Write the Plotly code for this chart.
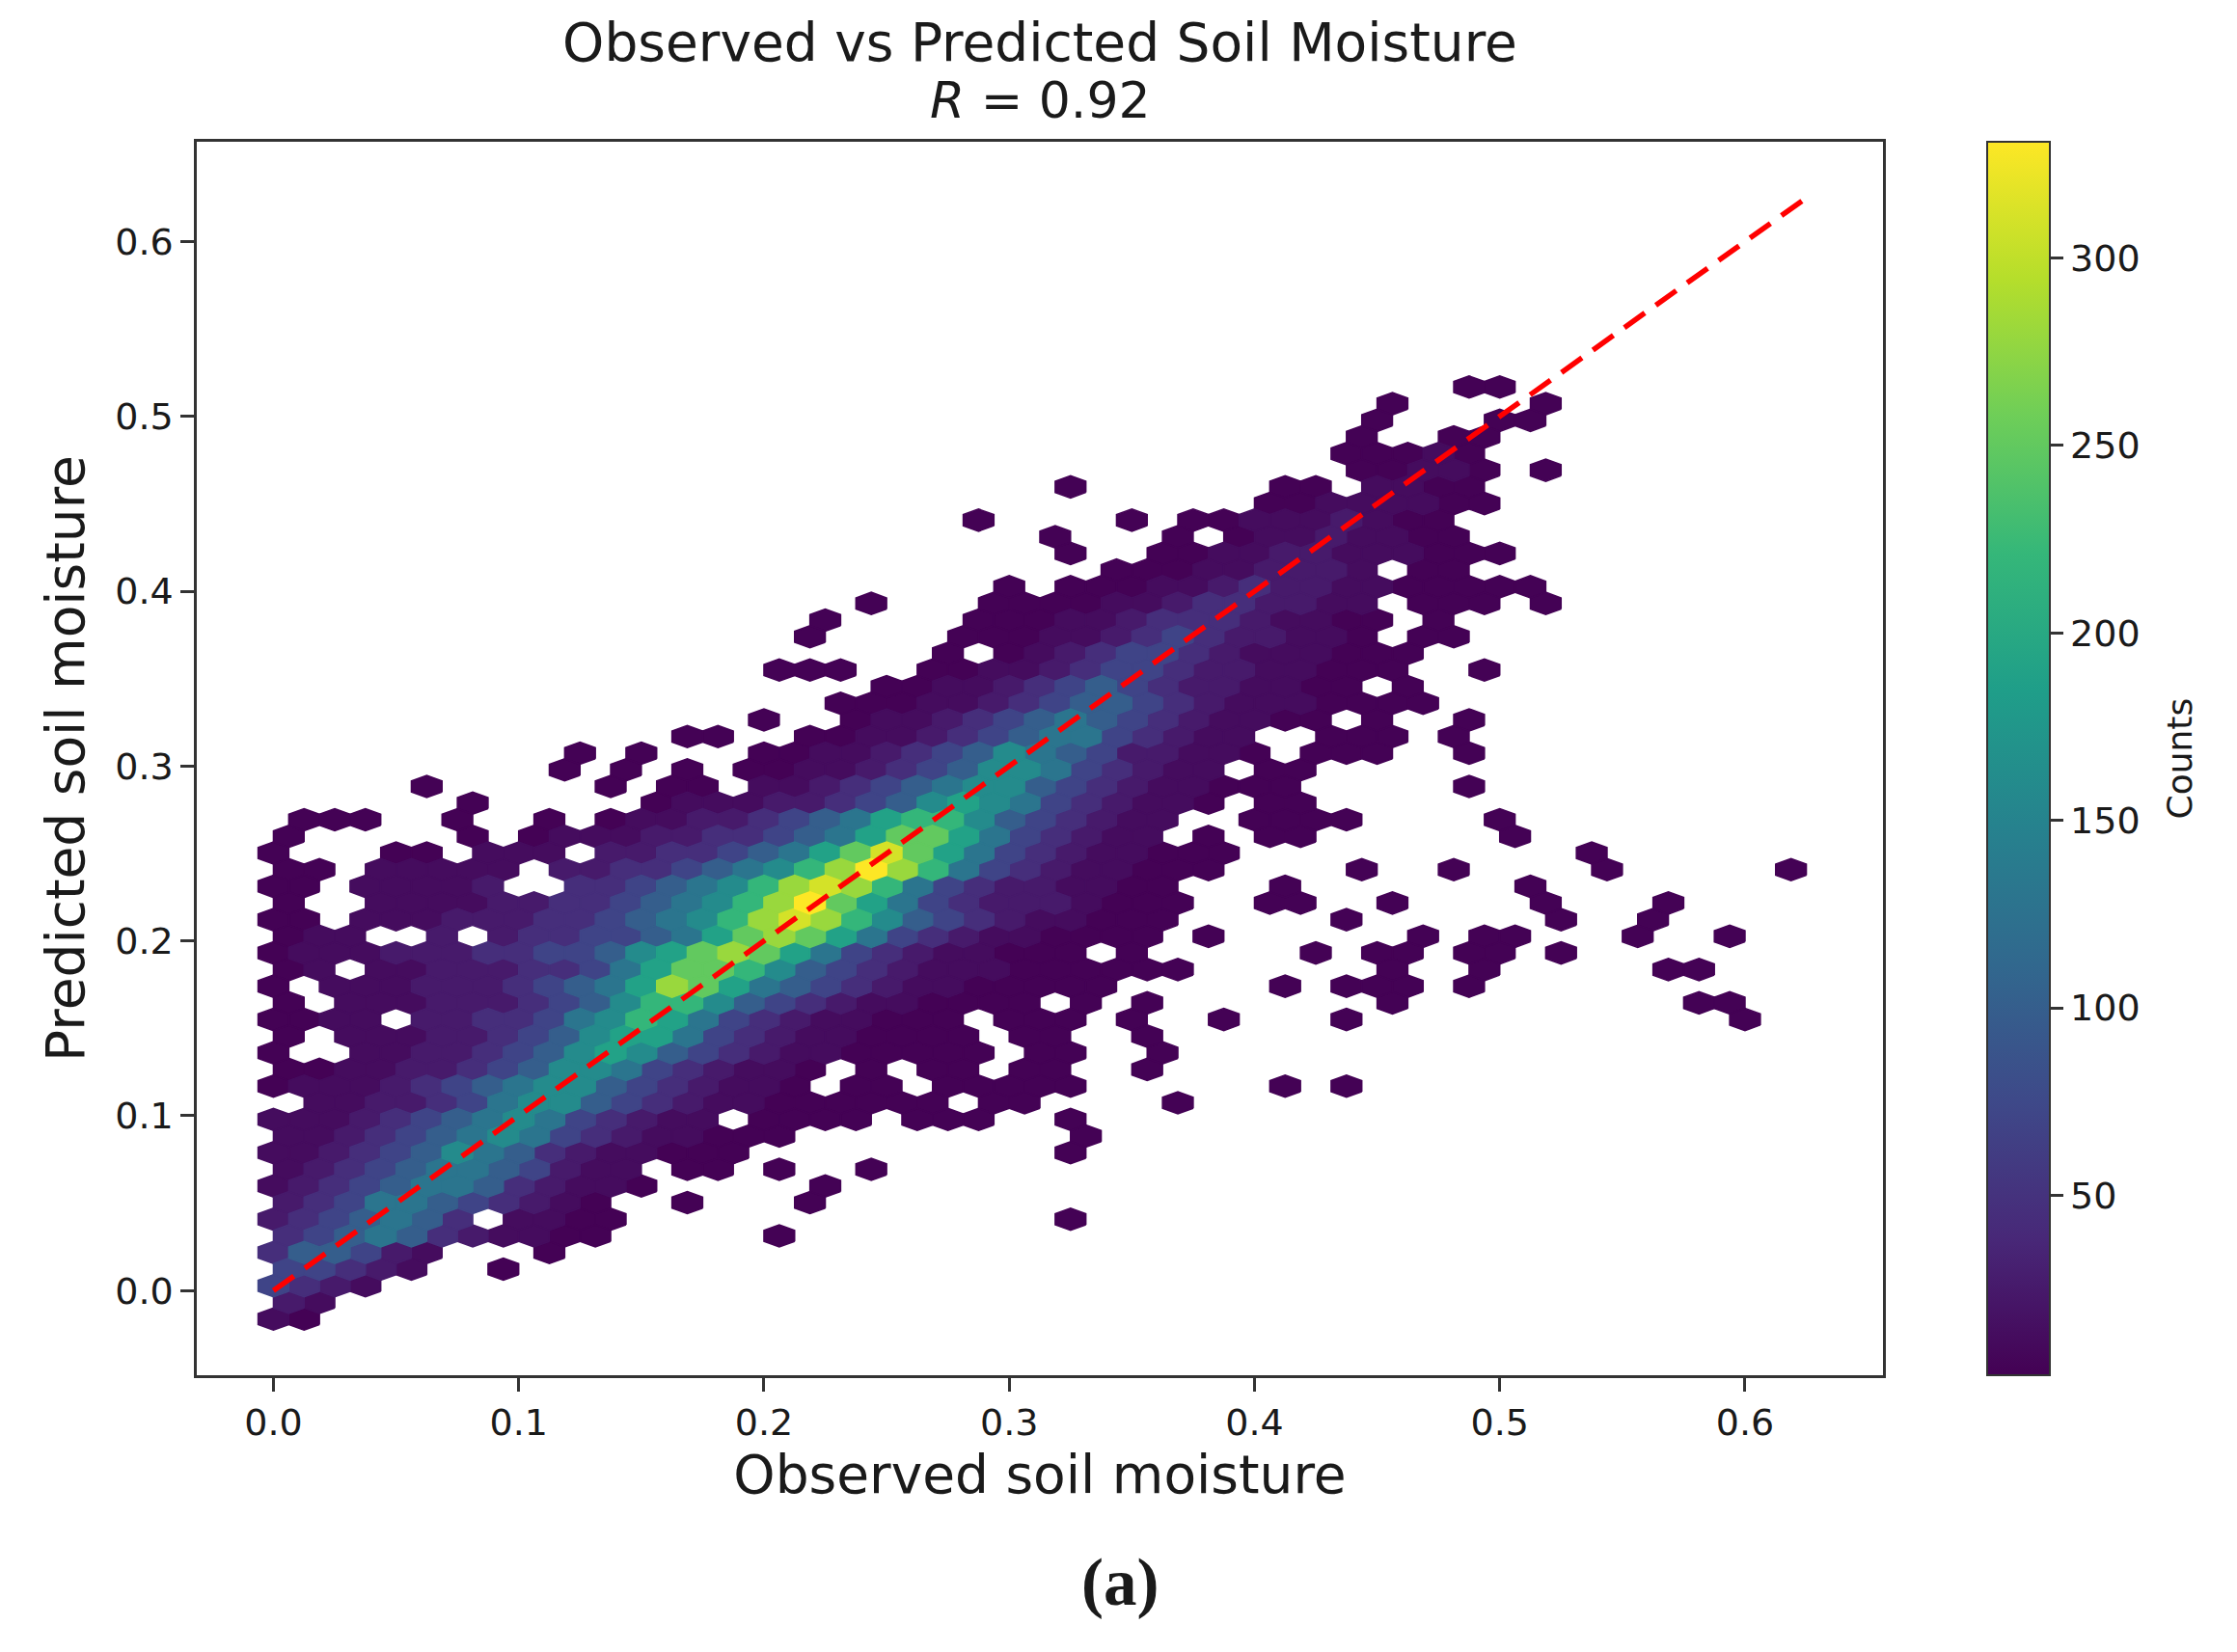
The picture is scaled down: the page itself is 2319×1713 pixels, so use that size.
import plotly.graph_objects as go
from plotly.colors import sample_colorscale

# ---------------- data ----------------
X_TICKS = [0.0, 0.1, 0.2, 0.3, 0.4, 0.5, 0.6]
Y_TICKS = [0.0, 0.1, 0.2, 0.3, 0.4, 0.5, 0.6]
CBAR_TICKS = [50, 100, 150, 200, 250, 300]
COUNT_MIN, COUNT_MAX = 2, 331

# hexbin lattice (matplotlib style: 50 columns over observed range)
HEX_X0, HEX_DX = 0.0, 0.0125
HEX_Y0, HEX_DY = -0.0163, 0.01904

# count levels used in the row strings ('.' = empty cell)
LEVEL_CHARS = "123456789ABCDE"
LEVEL_COUNTS = [3, 12, 25, 45, 70, 100, 130, 160, 190, 220, 250, 280, 310, 331]

# one string per hex row, bottom row first; odd rows are shifted by half a cell
HEX_ROWS = [
    "21",
    "32",
    "5432",
    "55432..1",
    "466532...1",
    "45676432211.....1",
    "3456764.2211..............1",
    "34577654321..1...1",
    "2345677643221.....1",
    "234567765322.11.1..1",
    "2234568764322111..........1",
    "22345678754322111.........1",
    "222345678754322.1111.111..1",
    ".223345788654322111111.11....1",
    "122234567886543221.11.11111......1.1",
    "112233456887543221.1.11.11..1",
    "1..223345689865432211111.11..1",
    "1.222334568997543221111.11..1",
    "1122.3344578A9754322111.111.1..1...1............1",
    "1.2223334568AA86543221111.1.1.......1.........11",
    "1.22233345679CB9765432211111.....1.111.1",
    "12.2233344579BBA86543222111111......1..1.....11",
    "12223334455689BCB9754322111.1.....1.11.11.1",
    "122..3.34455679BCB97543221111.1......1.11...1..1",
    "11.222333445678ACDCA8654322111.....1......1..1",
    "1..222233445678ACEB97543332111..11..1....1...1",
    "11.22223..445678ACDCA754332211...1.......1",
    "11.22222.33445678ACECA754322111....1..1....1.....1",
    "1...11.222.33445679BDB9754322111...........1",
    "1.....1.122233445679BB9754322.1.11......1",
    ".111..1..1.1223345679AA8654322..1111....1",
    "......1.....1222334568987543221.11",
    ".....1.....1.11.223456788654322111.....1",
    ".........1.1.1.1122345688754322.11",
    "..........1.1...11223456876533221.111..1",
    ".............11..112234567754322..111.1",
    "................1..1223456765432211.1..1",
    "..................11122345665432221111",
    "....................1122345654332211.1",
    "................111..1122345543322111..1",
    "......................1.12345543222111",
    ".................1....11122345433221.11",
    "..................1....11122344432211.1",
    "...................1...1111223443322.111.1",
    "........................1.1112234332211111",
    "...........................111223332.11",
    "..........................1..112233222111",
    ".........................1...1.12232211",
    ".......................1....1.112223211",
    "................................11222211",
    "..........................1......11.2211",
    "...................................11221.1",
    "...................................11121",
    "...................................1..11",
    "....................................1...11",
    "....................................1....1",
    ".......................................11",
]

LINE_X = [0.0, 0.625]
LINE_Y = [0.0, 0.625]

# ---------------- build hexagons ----------------
ncols = 51
cells_by_level = {}
cx_all, cy_all, cnt_all = [], [], []
for r, row in enumerate(HEX_ROWS):
    row = row.ljust(ncols, ".")
    cy = HEX_Y0 + r * HEX_DY / 2.0
    shift = 0.5 if r % 2 else 0.0
    for i, ch in enumerate(row):
        if ch == ".":
            continue
        lvl = LEVEL_CHARS.index(ch)
        cx = HEX_X0 + (i + shift) * HEX_DX
        cells_by_level.setdefault(lvl, []).append((cx, cy))
        cx_all.append(cx)
        cy_all.append(cy)
        cnt_all.append(LEVEL_COUNTS[lvl])

hx = [0.5, 0.5, 0.0, -0.5, -0.5, 0.0, 0.5]
hy = [-1 / 6, 1 / 6, 1 / 3, 1 / 6, -1 / 6, -1 / 3, -1 / 6]

fig = go.Figure()
for lvl in sorted(cells_by_level):
    count = LEVEL_COUNTS[lvl]
    frac = max(0.0, (count - COUNT_MIN) / (COUNT_MAX - COUNT_MIN))
    color = sample_colorscale("Viridis", frac)[0]
    xs, ys = [], []
    for cx, cy in cells_by_level[lvl]:
        xs += [cx + a * HEX_DX for a in hx] + [None]
        ys += [cy + b * HEX_DY for b in hy] + [None]
    fig.add_trace(go.Scatter(
        x=xs, y=ys, mode="lines", fill="toself", fillcolor=color,
        line=dict(color=color, width=1.5), hoverinfo="skip", showlegend=False))

TXT = "#1a1a1a"
FRAME = "#333333"

# invisible carrier for the colour bar
fig.add_trace(go.Scatter(
    x=cx_all, y=cy_all, mode="markers", hoverinfo="skip", showlegend=False,
    marker=dict(size=0, opacity=0, color=cnt_all, colorscale="Viridis",
                cmin=COUNT_MIN, cmax=COUNT_MAX, showscale=True,
                colorbar=dict(
                    x=1.0618, xanchor="left", xpad=0,
                    y=0.5, yanchor="middle", len=1.0, lenmode="fraction", ypad=0,
                    thickness=65, thicknessmode="pixels",
                    outlinewidth=2, outlinecolor=FRAME,
                    tickvals=CBAR_TICKS, ticktext=[str(t) for t in CBAR_TICKS],
                    ticks="outside", ticklen=13, tickwidth=2.5, tickcolor=FRAME,
                    tickfont=dict(size=38, color=TXT)))))

# 1:1 reference line
fig.add_trace(go.Scatter(
    x=LINE_X, y=LINE_Y, mode="lines", hoverinfo="skip", showlegend=False,
    line=dict(color="#ff0000", width=5.5, dash="26px,14px")))

axis_common = dict(
    showgrid=False, zeroline=False, showline=True, linecolor=FRAME,
    linewidth=2.5, mirror=True, ticks="outside", ticklen=14, tickwidth=2.5,
    tickcolor=FRAME, tickfont=dict(size=38, color=TXT),
    tickformat=".1f")

fig.update_layout(
    width=2303, height=1697,
    paper_bgcolor="white", plot_bgcolor="white",
    font=dict(family="DejaVu Sans", color=TXT),
    margin=dict(l=196, r=359, t=139, b=279, pad=0),
    title=dict(text="Observed vs Predicted Soil Moisture",
               x=0.5, xref="paper", xanchor="center",
               y=1 - 36 / 1697, yref="container", yanchor="middle",
               font=dict(size=55, color=TXT)),
    xaxis=dict(axis_common, range=[-0.03125, 0.65625], tickvals=X_TICKS,
               title=dict(text="Observed soil moisture", standoff=8,
                          font=dict(size=55, color=TXT))),
    yaxis=dict(axis_common, range=[-0.0484, 0.6571], tickvals=Y_TICKS,
               title=dict(text="Predicted soil moisture", standoff=14,
                          font=dict(size=55, color=TXT))),
    annotations=[
        dict(text="<i>R</i> = 0.92", x=0.5, xref="paper", xanchor="center",
             y=1.0336, yref="paper", yanchor="middle", showarrow=False,
             font=dict(size=52, color=TXT)),
        dict(text="Counts", x=1.1762, xref="paper", xanchor="center",
             y=0.5, yref="paper", yanchor="middle", textangle=-90,
             showarrow=False, font=dict(size=36, color=TXT)),
        dict(text="<b>(a)</b>", x=0.5475, xref="paper", xanchor="center",
             y=-0.168, yref="paper", yanchor="middle", showarrow=False,
             font=dict(family="Liberation Serif", size=69, color=TXT)),
    ],
)

fig.write_html("out.html")
